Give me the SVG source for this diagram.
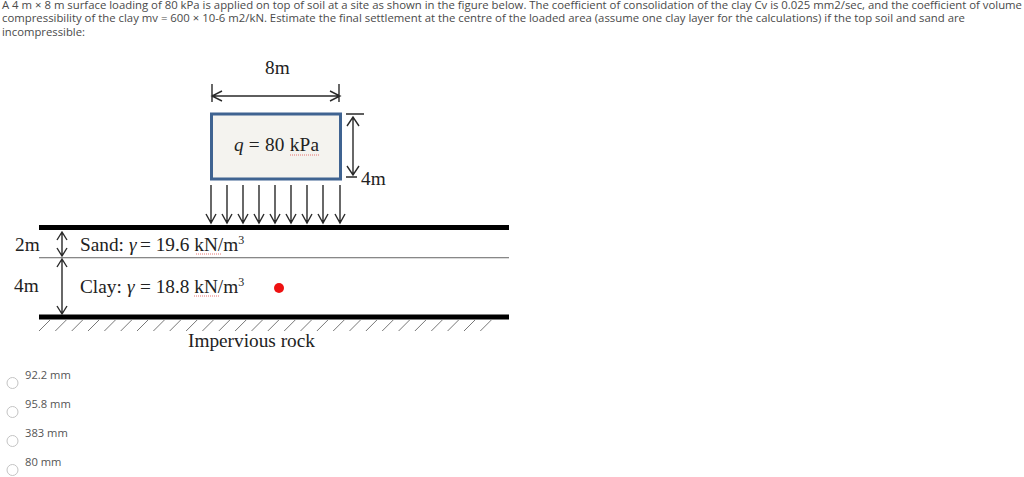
<svg xmlns="http://www.w3.org/2000/svg" width="1024" height="477" viewBox="0 0 1024 477">
<style>
.q{font-family:"Open Sans",sans-serif;font-size:11.2px;fill:#4a4a4a}
.o{font-family:"Open Sans",sans-serif;font-size:11.2px;fill:#555}
.t{font-family:"Liberation Serif",serif;font-size:19.3px;fill:#222}
.i{font-style:italic}
.dim{stroke:#2a2a2a;stroke-width:1.4;fill:none}
.load{stroke:#2a2a2a;stroke-width:1.4;fill:none}
.hatch{stroke:#777;stroke-width:1;fill:none}
.radio{fill:#fff;stroke:#c4c4c4;stroke-width:1}
.wavy{stroke:#e05050;stroke-width:.8;fill:none;stroke-dasharray:1 1}
</style>
<rect width="1024" height="477" fill="#fff"/>
<g id="question">
<text class="q" x="2" y="9" textLength="1020" lengthAdjust="spacingAndGlyphs">A 4 m × 8 m surface loading of 80 kPa is applied on top of soil at a site as shown in the figure below. The coefficient of consolidation of the clay Cv is 0.025 mm2/sec, and the coefficient of volume</text>
<text class="q" x="2" y="22" textLength="963" lengthAdjust="spacingAndGlyphs">compressibility of the clay mv = 600 × 10-6 m2/kN. Estimate the final settlement at the centre of the loaded area (assume one clay layer for the calculations) if the top soil and sand are</text>
<text class="q" x="2" y="35.500" textLength="83" lengthAdjust="spacingAndGlyphs">incompressible:</text>
</g>
<g id="load-area">
<rect x="211.500" y="114" width="129" height="65" fill="#f4f3ef" stroke="#3f6391" stroke-width="3"/>
<text class="t" x="234" y="151" textLength="85"><tspan class="i">q</tspan> = 80 kPa</text>
<path class="wavy" d="M290 155h29"/>
</g>
<g id="ground-layers">
<rect x="39" y="225" width="470" height="5" fill="#000"/>
<rect x="39" y="257" width="470" height="1.300" fill="#888"/>
<rect x="39" y="314.500" width="470" height="5" fill="#000"/>
<path class="hatch" d="M39 331l11-11M55.300 331l11-11M71.700 331l11-11M88 331l11-11M104.400 331l11-11M120.700 331l11-11M137 331l11-11M153.400 331l11-11M169.700 331l11-11M186.100 331l11-11M202.400 331l11-11M218.800 331l11-11M235.100 331l11-11M251.500 331l11-11M267.800 331l11-11M284.200 331l11-11M300.500 331l11-11M316.900 331l11-11M333.200 331l11-11M349.500 331l11-11M365.900 331l11-11M382.200 331l11-11M398.600 331l11-11M414.900 331l11-11M431.300 331l11-11M447.600 331l11-11M464 331l11-11M480.300 331l11-11"/>
</g>
<g id="connectors">
<path class="dim" d="M212 84v18M339 84v18M212 96l128 0M222 91l-10 5 10 5M330 91l10 5-10 5"/>
<path class="dim" d="M346 114h18M346 177h11M353 117v58M347 126l6-9 6 9M347 166l6 9 6-9"/>
<path class="load" d="M211 185v38M206 214l5 9 5-9M227 185v38M222 214l5 9 5-9M243 185v38M238 214l5 9 5-9M259 185v38M254 214l5 9 5-9M275 185v38M270 214l5 9 5-9M291 185v38M286 214l5 9 5-9M307 185v38M302 214l5 9 5-9M323 185v38M318 214l5 9 5-9M340 185v38M335 214l5 9 5-9"/>
<path class="dim" d="M62 232v24M57 240l5-8 5 8M57 248l5 8 5-8M62 259v55M57 267l5-8 5 8M57 306l5 8 5-8"/>
</g>
<g id="labels">
<text class="t" x="265" y="74">8m</text>
<text class="t" x="361" y="185">4m</text>
<text class="t" x="15" y="251">2m</text>
<text class="t" x="14" y="292">4m</text>
<text class="t" x="80" y="251">Sand: <tspan class="i" x="129">γ</tspan><tspan x="140">= 19.6 kN/m</tspan><tspan font-size="12" dy="-7">3</tspan></text>
<path class="wavy" d="M196 254h25"/>
<text class="t" x="80" y="293">Clay: <tspan class="i" x="127">γ</tspan><tspan x="140">= 18.8 kN/m</tspan><tspan font-size="12" dy="-7">3</tspan></text>
<path class="wavy" d="M194 296h25"/>
<text class="t" x="188" y="347">Impervious rock</text>
</g>
<circle id="centre-point" cx="279" cy="288" r="5" fill="#ee1111"/>
<g id="option-1"><circle class="radio" cx="12.500" cy="383" r="5.500"/><text class="o" x="25" y="379">92.2 mm</text></g>
<g id="option-2"><circle class="radio" cx="12.500" cy="412" r="5.500"/><text class="o" x="25" y="408">95.8 mm</text></g>
<g id="option-3"><circle class="radio" cx="12.500" cy="441" r="5.500"/><text class="o" x="25" y="437">383 mm</text></g>
<g id="option-4"><circle class="radio" cx="12.500" cy="470" r="5.500"/><text class="o" x="25" y="466">80 mm</text></g>
</svg>
